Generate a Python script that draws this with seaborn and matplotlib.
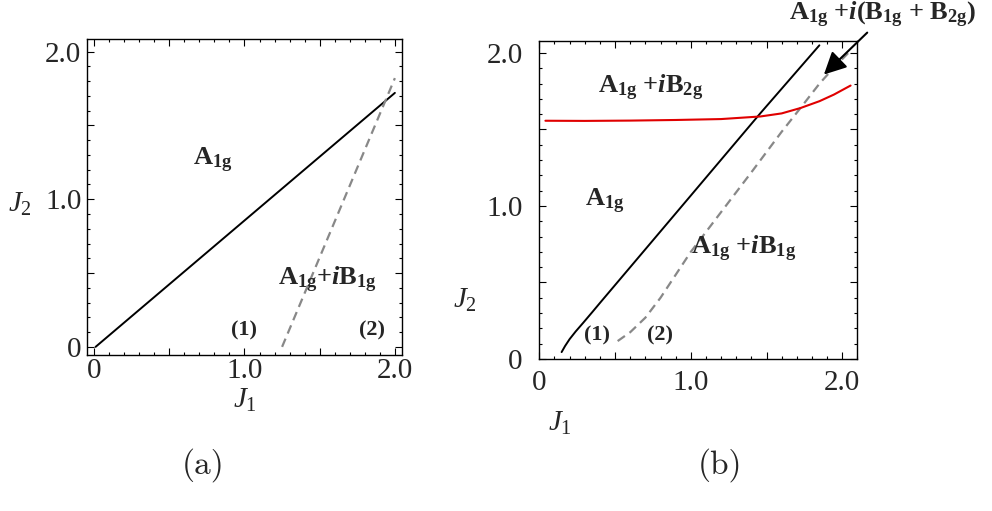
import numpy as np
import pandas as pd
import matplotlib
matplotlib.use("Agg")
import matplotlib.pyplot as plt
from matplotlib.ticker import MultipleLocator, FuncFormatter
import seaborn as sns

# panel (a) phase boundaries
a_solid_j1 = [0.01, 2.0]
a_solid_j2 = [0.0, 1.72]
a_dash_j1 = [1.25, 2.0]
a_dash_j2 = [0.0, 1.82]

# panel (b) phase boundaries
b_solid_j1 = [0.147, 0.17, 0.2, 0.24, 0.29, 0.35, 0.405, 0.7, 1.0, 1.461, 1.849]
b_solid_j2 = [0.045, 0.085, 0.13, 0.18, 0.237, 0.307, 0.372, 0.717, 1.068, 1.608, 2.05]
b_dash_j1 = [0.517, 0.6, 0.7, 0.8, 0.9, 1.0, 1.2, 1.4, 1.6, 1.724, 1.85, 1.95, 2.05]
b_dash_j2 = [0.117, 0.175, 0.27, 0.40, 0.55, 0.70, 0.96, 1.22, 1.485, 1.64, 1.80, 1.91, 2.01]
b_red_j1 = [0.04, 0.3, 0.6, 0.9, 1.2, 1.46, 1.6, 1.724, 1.85, 1.945, 2.055]
b_red_j2 = [1.557, 1.556, 1.558, 1.562, 1.568, 1.585, 1.605, 1.64, 1.685, 1.728, 1.787]

sns.set_style("ticks")
plt.rcParams["font.family"] = ["Liberation Serif", "DejaVu Serif"]
plt.rcParams["mathtext.fontset"] = "custom"
plt.rcParams["mathtext.rm"] = "Liberation Serif"
plt.rcParams["mathtext.it"] = "Liberation Serif:italic"
plt.rcParams["mathtext.bf"] = "Liberation Serif:bold"
plt.rcParams["mathtext.bfit"] = "Liberation Serif:bold:italic"

fig = plt.figure(figsize=(9.92, 5.11), dpi=100)
ax1 = fig.add_axes([0.0877, 0.305, 0.3175, 0.619])
ax2 = fig.add_axes([0.5437, 0.2975, 0.3206, 0.6228])


def fmt(v, p):
    if abs(v) < 1e-9:
        return "0"
    if abs(v - round(v)) < 1e-9:
        return "%.1f" % v
    return ""


for ax in (ax1, ax2):
    ax.xaxis.set_major_locator(MultipleLocator(0.5))
    ax.yaxis.set_major_locator(MultipleLocator(0.5))
    ax.xaxis.set_minor_locator(MultipleLocator(0.1))
    ax.yaxis.set_minor_locator(MultipleLocator(0.1))
    ax.xaxis.set_major_formatter(FuncFormatter(fmt))
    ax.yaxis.set_major_formatter(FuncFormatter(fmt))
    ax.tick_params(which="both", direction="in", top=True, right=True,
                   labelsize=21, width=0.8, color="k")
    ax.tick_params(which="major", length=5)
    ax.tick_params(which="minor", length=2.5)
    for s in ax.spines.values():
        s.set_linewidth(1.0)
        s.set_color("k")

ls_dash = (0, (4, 2.5))
lab = 19
num = 16

# panel (a)
sns.lineplot(x=a_solid_j1, y=a_solid_j2, ax=ax1, color="k", lw=1.4)
sns.lineplot(x=a_dash_j1, y=a_dash_j2, ax=ax1, color="#888888", lw=1.6, linestyle=ls_dash)
ax1.set_xlim(-0.047, 2.047)
ax1.set_ylim(-0.056, 2.086)
ax1.tick_params(axis="x", pad=2)
ax1.tick_params(axis="y", pad=4)
ax1.set_xlabel(r"$J_{\mathrm{1}}$", fontsize=21)
ax1.xaxis.set_label_coords(0.5, -0.10)
ax1.set_ylabel(r"$J_{\mathrm{2}}$", fontsize=21, rotation=0, ha="center", va="center")
ax1.yaxis.set_label_coords(-0.213, 0.475)

ax1.text(0.79, 1.265, r"$\mathbf{A_{1g}}$", fontsize=lab, ha="center", va="center")
ax1.text(1.55, 0.45, r"$\mathbf{A_{1g}{+}}\mathbfit{i}\mathbf{B_{1g}}$",
         fontsize=lab, ha="center", va="center")
ax1.text(1.0, 0.11, "(1)", fontsize=num, fontweight="bold", ha="center", va="center")
ax1.text(1.85, 0.11, "(2)", fontsize=num, fontweight="bold", ha="center", va="center")

# panel (b)
sns.lineplot(x=b_solid_j1, y=b_solid_j2, ax=ax2, color="k", lw=1.4, sort=False)
sns.lineplot(x=b_dash_j1, y=b_dash_j2, ax=ax2, color="#888888", lw=1.6,
             linestyle=ls_dash, sort=False)
sns.lineplot(x=b_red_j1, y=b_red_j2, ax=ax2, color="#e00000", lw=1.5, sort=False)
ax2.set_xlim(0, 2.1)
ax2.set_ylim(0, 2.08)
ax2.tick_params(axis="x", pad=8)
ax2.tick_params(axis="y", pad=12)
ax2.set_xlabel(r"$J_{\mathrm{1}}$", fontsize=21)
ax2.xaxis.set_label_coords(0.065, -0.16)
ax2.set_ylabel(r"$J_{\mathrm{2}}$", fontsize=21, rotation=0, ha="center", va="center")
ax2.yaxis.set_label_coords(-0.234, 0.185)

ax2.text(0.736, 1.77, r"$\mathbf{A_{1g}\ {+}}\mathbfit{i}\mathbf{B_{2g}}$",
         fontsize=lab, ha="center", va="center")
ax2.text(0.43, 1.03, r"$\mathbf{A_{1g}}$", fontsize=lab, ha="center", va="center")
ax2.text(1.35, 0.72, r"$\mathbf{A_{1g}\ {+}}\mathbfit{i}\mathbf{B_{1g}}$",
         fontsize=lab, ha="center", va="center")
ax2.text(0.378, 0.154, "(1)", fontsize=num, fontweight="bold", ha="center", va="center")
ax2.text(0.798, 0.154, "(2)", fontsize=num, fontweight="bold", ha="center", va="center")
ax2.annotate("", xy=(1.879, 1.859), xytext=(2.165, 2.133),
             arrowprops=dict(arrowstyle="-|>", mutation_scale=34, lw=1.5, color="k",
                             shrinkA=0, shrinkB=0),
             annotation_clip=False)
ax2.text(2.266, 2.25,
         r"$\mathbf{A_{1g}\ {+}}\mathbfit{i}\mathbf{(B_{1g}\ {+}\ B_{2g})}$",
         fontsize=lab, ha="center", va="center", clip_on=False)

fig.text(203 / 992, 1 - 465 / 511, "(a)", family="cmr10", fontsize=24,
         ha="center", va="center")
fig.text(720 / 992, 1 - 465 / 511, "(b)", family="cmr10", fontsize=24,
         ha="center", va="center")

fig.savefig("out.png", dpi=100)
